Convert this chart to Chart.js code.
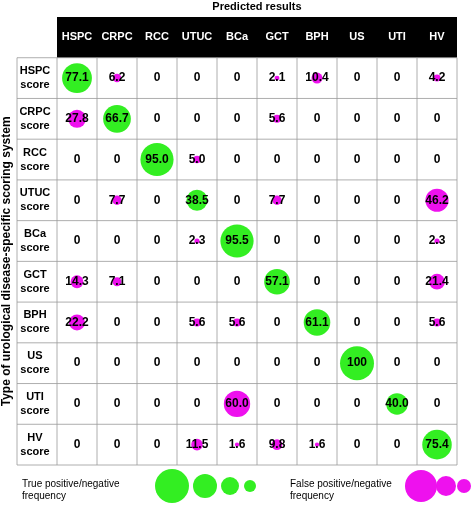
<!DOCTYPE html>
<html><head><meta charset="utf-8">
<script src="https://cdn.jsdelivr.net/npm/chart.js@4"></script>
<style>html,body{margin:0;padding:0;background:#fff;overflow:hidden}#w{width:474px;height:506px}</style>
</head><body><div id="w"><canvas id="c"></canvas></div>
<script>
const categories=["HSPC","CRPC","RCC","UTUC","BCa","GCT","BPH","US","UTI","HV"];
const rowHSPC=[77.1,6.2,0,0,0,2.1,10.4,0,0,4.2];
const rowCRPC=[27.8,66.7,0,0,0,5.6,0,0,0,0];
const rowRCC=[0,0,95.0,5.0,0,0,0,0,0,0];
const rowUTUC=[0,7.7,0,38.5,0,7.7,0,0,0,46.2];
const rowBCa=[0,0,0,2.3,95.5,0,0,0,0,2.3];
const rowGCT=[14.3,7.1,0,0,0,57.1,0,0,0,21.4];
const rowBPH=[22.2,0,0,5.6,5.6,0,61.1,0,0,5.6];
const rowUS=[0,0,0,0,0,0,0,100,0,0];
const rowUTI=[0,0,0,0,60.0,0,0,0,40.0,0];
const rowHV=[0,0,0,11.5,1.6,9.8,1.6,0,0,75.4];
const rows=[rowHSPC,rowCRPC,rowRCC,rowUTUC,rowBCa,rowGCT,rowBPH,rowUS,rowUTI,rowHV];
const GREEN="#33ee22",MAG="#ee11ee";
const diag=[],off=[];
rows.forEach((r,i)=>r.forEach((v,j)=>{if(v>0){(i===j?diag:off).push({x:j,y:i,r:1.7*Math.sqrt(v),v});}}));
const F="Liberation Sans, Arial, sans-serif";
const deco={id:'deco',
beforeDatasetsDraw(ch){const {ctx,scales:{x,y}}=ch;ctx.save();
 const cw=x.getPixelForValue(1)-x.getPixelForValue(0),rh=y.getPixelForValue(1)-y.getPixelForValue(0);
 ctx.fillStyle="#000";ctx.fillRect(x.getPixelForValue(-0.5),y.getPixelForValue(-1.5),cw*10,rh);
 ctx.strokeStyle="#999";ctx.lineWidth=0.8;
 for(let i=0;i<=10;i++){const yy=y.getPixelForValue(i-0.5);ctx.beginPath();ctx.moveTo(x.getPixelForValue(-1.5),yy);ctx.lineTo(x.getPixelForValue(9.5),yy);ctx.stroke();}
 for(let j=-1;j<=10;j++){const xx=x.getPixelForValue(j-0.5);ctx.beginPath();ctx.moveTo(xx,y.getPixelForValue(-0.5));ctx.lineTo(xx,y.getPixelForValue(9.5));ctx.stroke();}
 ctx.textAlign="center";ctx.textBaseline="middle";ctx.font="bold 11px "+F;
 categories.forEach((c,j)=>{ctx.fillStyle="#fff";ctx.fillText(c,x.getPixelForValue(j),y.getPixelForValue(-1));
  ctx.fillStyle="#000";const yy=y.getPixelForValue(j);ctx.fillText(c,x.getPixelForValue(-1)-2,yy-7);ctx.fillText("score",x.getPixelForValue(-1)-2,yy+7);});
 ctx.font="bold 11px "+F;ctx.fillText("Predicted results",x.getPixelForValue(4.5),7);
 ctx.save();ctx.translate(7,y.getPixelForValue(4.5));ctx.rotate(-Math.PI/2);ctx.font="bold 12px "+F;ctx.fillText("Type of urological disease-specific scoring system",0,0);ctx.restore();
 ctx.textAlign="left";ctx.font="10px "+F;ctx.fillText("True positive/negative",22,484);ctx.fillText("frequency",22,496);
 ctx.fillText("False positive/negative",290,484);ctx.fillText("frequency",290,496);
 [[172,17],[205,12],[230,9],[250,6]].forEach(([cx,r])=>{ctx.fillStyle=GREEN;ctx.beginPath();ctx.arc(cx,486,r,0,7);ctx.fill();});
 [[421,16],[446,10],[464,7]].forEach(([cx,r])=>{ctx.fillStyle=MAG;ctx.beginPath();ctx.arc(cx,486,r,0,7);ctx.fill();});
 ctx.restore();},
afterDatasetsDraw(ch){const {ctx,scales:{x,y}}=ch;ctx.save();ctx.fillStyle="#000";ctx.textAlign="center";ctx.textBaseline="middle";ctx.font="bold 12px "+F;
 rows.forEach((r,i)=>r.forEach((v,j)=>{ctx.fillText(v===0?"0":(v===100?"100":v.toFixed(1)),x.getPixelForValue(j),y.getPixelForValue(i));}));ctx.restore();}};
new Chart(document.getElementById('c'),{type:'bubble',
data:{datasets:[{data:diag,backgroundColor:GREEN,borderWidth:0},{data:off,backgroundColor:MAG,borderWidth:0}]},
options:{responsive:true,maintainAspectRatio:false,animation:false,
 layout:{padding:{left:14,right:0,top:15,bottom:41}},
 plugins:{legend:{display:false},tooltip:{enabled:false}},
 scales:{x:{type:'linear',min:-1.5,max:9.5,display:false},y:{type:'linear',min:-1.5,max:9.5,reverse:true,display:false}}},
plugins:[deco]});
</script></body></html>
